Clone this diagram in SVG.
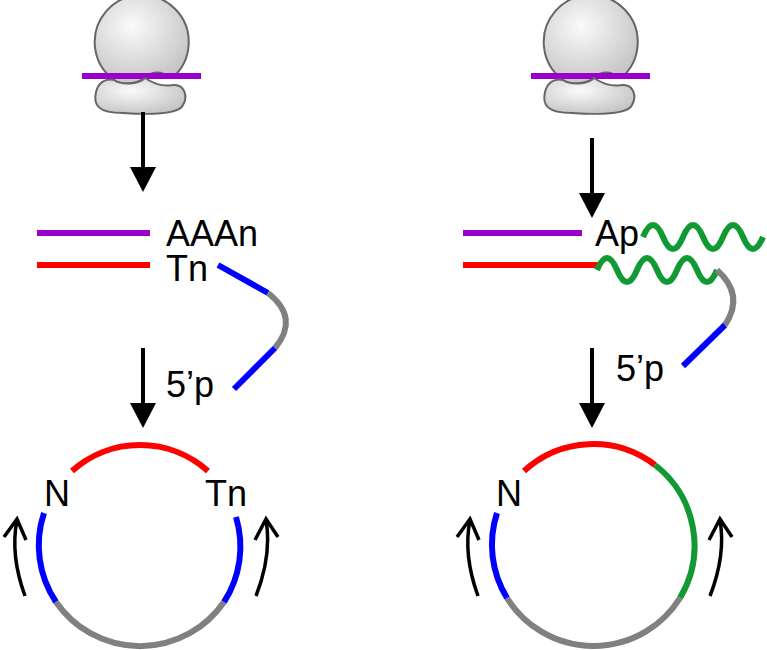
<svg xmlns="http://www.w3.org/2000/svg" width="767" height="650" viewBox="0 0 767 650">
<defs>
<radialGradient id="g" cx="0.4" cy="0.35" r="0.7"><stop offset="0" stop-color="#fafafa"/><stop offset="1" stop-color="#c4c4c4"/></radialGradient>
<g id="ribo">
<path d="M-29,33 A47,47 0 1 1 29,31 C20,25 12,23 4,29 C-5,38 -22,38 -29,33 Z" fill="url(#g)" stroke="#666" stroke-width="2"/>
<line x1="-61" y1="29" x2="58" y2="29" stroke="#9900cc" stroke-width="6"/>
<path d="M-29,33 C-22,38 -5,38 2,31 C10,36 18,40 30,38 C42,37 45,50 40,58 C36,67 10,68 -20,66 C-45,66 -50,58 -47,45 C-45,36 -38,31 -29,33 Z" fill="url(#g)" stroke="#666" stroke-width="2"/>
</g>
<g id="down"><line x1="0" y1="0" x2="0" y2="60" stroke="#000" stroke-width="4"/><path d="M-13,55 L13,55 L0,80 Z" fill="#000"/></g>
</defs>
<style>text{font-family:"Liberation Sans",Arial,sans-serif;font-size:36px;fill:#000}.s{fill:none;stroke-width:6}.a{fill:none;stroke:#000;stroke-width:3.5}</style>
<g id="left">
<use href="#ribo" x="143" y="47"/>
<use href="#down" x="143" y="112"/>
<line x1="37" y1="233" x2="150" y2="233" stroke="#9900cc" stroke-width="6"/>
<line x1="37" y1="265" x2="150" y2="265" stroke="red" stroke-width="6"/>
<text x="166" y="246">AAAn</text>
<text x="166" y="281">Tn</text>
<path class="s" d="M218,265 L268,293" stroke="blue"/>
<path class="s" d="M268,293 Q300,318 275,348" stroke="#808080"/>
<path class="s" d="M275,348 L234,389" stroke="blue"/>
<use href="#down" x="143" y="348"/>
<text x="166" y="397">5’p</text>
<path class="s" d="M72,471 A102,102 0 0 1 208,471" stroke="red"/>
<path class="s" d="M44,513 A102,102 0 0 0 56,602" stroke="blue"/>
<path class="s" d="M56,602 A102,102 0 0 0 224,602" stroke="#808080"/>
<path class="s" d="M236,517 A102,102 0 0 1 224,602" stroke="blue"/>
<text x="44" y="506">N</text>
<text x="205" y="506">Tn</text>
<path class="a" d="M25,596 Q10,555 17,520 M4,537 L17,519 L26,540"/>
<path class="a" d="M256,596 Q272,555 266,520 M255,540 L266,519 L278,537"/>
</g>
<g id="right">
<use href="#ribo" x="592" y="47"/>
<use href="#down" x="592" y="138"/>
<line x1="463" y1="233" x2="582" y2="233" stroke="#9900cc" stroke-width="6"/>
<line x1="463" y1="265" x2="598" y2="265" stroke="red" stroke-width="6"/>
<text x="595" y="246">Ap</text>
<path class="s" d="M643,237 q10,-24 20,0 t20,0 t20,0 t20,0 t20,0 t20,0" stroke="#119933" stroke-width="4"/>
<path class="s" d="M597,270 q10,-24 20,0 t20,0 t20,0 t20,0 t20,0 t20,0" stroke="#119933" stroke-width="4"/>
<path class="s" d="M717,270 Q745,295 725,325" stroke="#808080"/>
<path class="s" d="M725,325 L683,366" stroke="blue"/>
<use href="#down" x="592" y="348"/>
<text x="616" y="381">5’p</text>
<path class="s" d="M524,471 A102,102 0 0 1 655,465" stroke="red"/>
<path class="s" d="M655,465 A102,102 0 0 1 680,598" stroke="#119933"/>
<path class="s" d="M680,598 A102,102 0 0 1 507,598" stroke="#808080"/>
<path class="s" d="M507,598 A102,102 0 0 1 497,513" stroke="blue"/>
<text x="496" y="506">N</text>
<path class="a" d="M478,596 Q463,555 470,520 M457,537 L470,519 L479,540"/>
<path class="a" d="M710,596 Q726,555 720,520 M709,540 L720,519 L732,537"/>
</g>
</svg>
